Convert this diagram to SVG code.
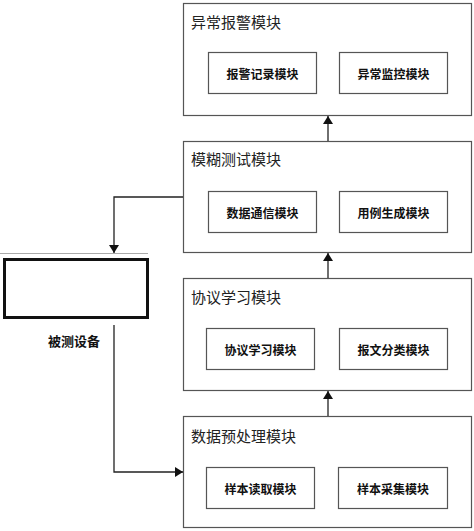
<svg xmlns="http://www.w3.org/2000/svg" width="474" height="531" viewBox="0 0 474 531">
<defs>
<marker id="ah" markerWidth="8" markerHeight="10" refX="8" refY="5" orient="auto" markerUnits="userSpaceOnUse">
<path d="M0,0 L8,5 L0,10 Z" fill="#111"/>
</marker>
<style>
.outer{fill:#fff;stroke:#555;stroke-width:1.2}
.inner{fill:#fff;stroke:#555;stroke-width:1.2}
.title{font-family:"Noto Sans CJK SC","Noto Sans CJK JP",sans-serif;font-size:15px;fill:#222}
.lbl{font-family:"Noto Sans CJK SC","Noto Sans CJK JP",sans-serif;font-size:12px;font-weight:bold;fill:#111;text-anchor:middle;dominant-baseline:central}
.dev{font-size:13px}
.conn{fill:none;stroke:#222;stroke-width:1.3}
</style>
</defs>
<rect width="474" height="531" fill="#fff"/>
<g id="alarm">
<rect class="outer" x="183.5" y="3.5" width="288" height="112"/>
<text class="title" x="191" y="28">异常报警模块</text>
<rect class="inner" x="208.5" y="52.5" width="108" height="41"/>
<text class="lbl" x="262.5" y="73">报警记录模块</text>
<rect class="inner" x="339.5" y="52.5" width="108" height="41"/>
<text class="lbl" x="393.5" y="73">异常监控模块</text>
</g>
<g id="fuzz">
<rect class="outer" x="183.5" y="141.5" width="288" height="111"/>
<text class="title" x="191" y="165">模糊测试模块</text>
<rect class="inner" x="208.5" y="191.5" width="108" height="41"/>
<text class="lbl" x="262.5" y="212">数据通信模块</text>
<rect class="inner" x="339.5" y="191.5" width="108" height="41"/>
<text class="lbl" x="393.5" y="212">用例生成模块</text>
</g>
<g id="proto">
<rect class="outer" x="183.5" y="278.5" width="288" height="112"/>
<text class="title" x="191" y="303">协议学习模块</text>
<rect class="inner" x="206.5" y="328.5" width="108" height="41"/>
<text class="lbl" x="260.5" y="349">协议学习模块</text>
<rect class="inner" x="339.5" y="328.5" width="108" height="41"/>
<text class="lbl" x="393.5" y="349">报文分类模块</text>
</g>
<g id="prep">
<rect class="outer" x="183.5" y="416.5" width="288" height="111"/>
<text class="title" x="191" y="442">数据预处理模块</text>
<rect class="inner" x="206.5" y="467.5" width="108" height="41"/>
<text class="lbl" x="260.5" y="488">样本读取模块</text>
<rect class="inner" x="338.5" y="467.5" width="109" height="41"/>
<text class="lbl" x="393" y="488">样本采集模块</text>
</g>
<g id="device">
<line x1="0" y1="253.5" x2="148" y2="253.5" stroke="#aaa" stroke-width="1"/>
<rect x="4.5" y="259.5" width="143" height="58" fill="#fff" stroke="#111" stroke-width="3"/>
<text class="lbl dev" x="74" y="340">被测设备</text>
</g>
<g id="connectors">
<line class="conn" x1="328" y1="141" x2="328" y2="116" marker-end="url(#ah)"/>
<line class="conn" x1="328" y1="278" x2="328" y2="253" marker-end="url(#ah)"/>
<line class="conn" x1="328" y1="416" x2="328" y2="391" marker-end="url(#ah)"/>
<polyline class="conn" points="183,197 114,197 114,253" marker-end="url(#ah)"/>
<polyline class="conn" points="114,325 114,472 183,472" marker-end="url(#ah)"/>
</g>
</svg>
